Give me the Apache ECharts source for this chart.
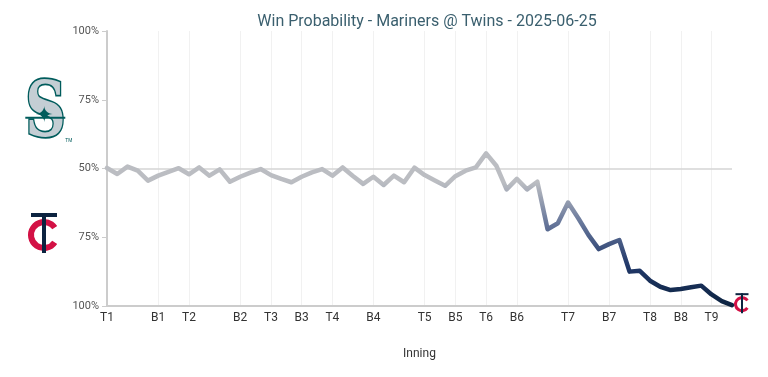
<!DOCTYPE html>
<html>
<head>
<meta charset="utf-8">
<script src="https://cdn.jsdelivr.net/npm/echarts@6/dist/echarts.min.js"></script>
<style>
  html, body { margin: 0; padding: 0; background: #fff; }
  #main { width: 768px; height: 377px; }
</style>
</head>
<body>
<div id="main"></div>
<script>
// half-inning labels and the play index where each one starts
const inningLabels = ['T1','B1','T2','B2','T3','B3','T4','B4','T5','B5','T6','B6','T7','B7','T8','B8','T9']
const inningStartIdx = [0,5,8,13,16,19,22,26,31,34,37,40,45,49,53,56,59]

// Mariners win probability (%) after each play
const winProb = [
  50.2, 48.0, 50.7, 49.2, 45.6, 47.4, 48.8, 50.1, 47.9, 50.4,
  47.4, 49.7, 45.2, 47.0, 48.5, 49.8, 47.6, 46.2, 45.0, 47.0,
  48.6, 49.8, 47.4, 50.4, 47.3, 44.4, 47.0, 44.0, 47.4, 45.0,
  50.3, 47.6, 45.6, 43.7, 47.2, 49.2, 50.4, 55.5, 51.0, 42.4,
  46.2, 42.4, 45.2, 27.9, 30.1, 37.6, 31.9, 25.8, 20.7, 22.5,
  24.0, 12.5, 12.8, 9.2, 7.0, 5.8, 6.2, 6.8, 7.4, 4.2,
  1.8, 0.3
]

const yTicks = [0, 25, 50, 75, 100]

const FONT = "'Roboto', sans-serif"

let categories = winProb.map((v, i) => {
    let k = inningStartIdx.indexOf(i)
    return k >= 0 ? inningLabels[k] : ''
})
let showLabel = (idx, val) => val !== ''

let myChart = echarts.init(document.getElementById('main'))

// Twins "TC" mark, built from simple shapes
function twinsLogo (x, y, s) {
    return {
        type: 'group',
        x: x,
        y: y,
        scaleX: s,
        scaleY: s,
        silent: true,
        children: [
            {
                type: 'arc',
                shape: { cx: 0, cy: 2, r: 13, startAngle: 0.6, endAngle: Math.PI * 2 - 0.6, clockwise: true },
                style: { stroke: '#d31145', lineWidth: 6, fill: null }
            },
            { type: 'rect', shape: { x: -13, y: -20, width: 26, height: 4 }, style: { fill: '#0c2340' } },
            { type: 'rect', shape: { x: -2, y: -20, width: 4, height: 40 }, style: { fill: '#0c2340' } }
        ]
    }
}

let option = {
    animation: false,
    title: {
        text: 'Win Probability - Mariners @ Twins - 2025-06-25',
        left: 422,
        textAlign: 'center',
        top: 9,
        textStyle: { fontFamily: FONT, fontSize: 16, fontWeight: 'normal', color: '#3a5f6e' }
    },
    grid: { left: 107, right: 36, top: 31, bottom: 71 },
    visualMap: {
        show: false,
        type: 'continuous',
        dimension: 1,
        seriesIndex: 0,
        min: 0,
        max: 45,
        inRange: { color: ['#0c2340', '#22396a', '#66769a', '#bbbdc2'] }
    },
    xAxis: {
        type: 'category',
        data: categories,
        boundaryGap: false,
        name: 'Inning',
        nameLocation: 'middle',
        nameGap: 42,
        nameTextStyle: { fontFamily: FONT, fontSize: 12, color: '#333' },
        axisLine: { lineStyle: { color: '#cccccc', width: 2 } },
        axisTick: { show: false },
        axisLabel: { interval: showLabel, fontFamily: FONT, fontSize: 12, color: '#333', margin: 6 },
        splitLine: { show: true, interval: showLabel, lineStyle: { color: '#f1f1f1', width: 1 } }
    },
    yAxis: {
        type: 'value',
        min: yTicks[0],
        max: yTicks[yTicks.length - 1],
        interval: 25,
        axisLine: { show: true, lineStyle: { color: '#cccccc', width: 2 } },
        axisTick: { show: true, length: 5, lineStyle: { color: '#cccccc' } },
        axisLabel: {
            fontFamily: FONT, fontSize: 11, color: '#555', margin: 8,
            formatter: v => (v >= 50 ? v : 100 - v) + '%'
        },
        splitLine: { show: false }
    },
    series: [{
        type: 'line',
        data: winProb,
        symbol: 'none',
        lineStyle: { width: 4.5, join: 'round', cap: 'round' },
        markLine: {
            silent: true,
            symbol: 'none',
            label: { show: false },
            lineStyle: { color: '#d4d4d4', width: 1.5, type: 'solid' },
            data: [{ yAxis: 50 }],
            z: 1
        },
        z: 3
    }],
    graphic: [
        // Mariners "S" mark
        {
            type: 'group',
            left: 24,
            top: 76,
            silent: true,
            children: [
                {
                    type: 'text',
                    x: 0, y: 0,
                    scaleX: 0.74,
                    style: {
                        text: 'S', fontFamily: 'DejaVu Serif', fontWeight: 'bold', fontSize: 76,
                        fill: '#c4ced4', stroke: '#005c5c', lineWidth: 3.5
                    }
                },
                { type: 'rect', shape: { x: 0, y: 39, width: 40, height: 2 }, style: { fill: '#005c5c' } },
                {
                    type: 'text', x: 10, y: 27,
                    style: { text: '\u2726', fontSize: 22, fill: '#005c5c' }
                },
                {
                    type: 'text', x: 40, y: 60,
                    style: { text: 'TM', fontSize: 5, fill: '#005c5c' }
                }
            ]
        },
        twinsLogo(44, 233, 1)
    ]
}

myChart.setOption(option)

// small Twins mark at the end of the line
let end = myChart.convertToPixel({ seriesIndex: 0 }, [winProb.length - 1, winProb[winProb.length - 1]])
myChart.setOption({ graphic: option.graphic.concat([twinsLogo(end[0] + 10, end[1] - 2, 0.5)]) })

window.addEventListener('resize', function () {
    myChart.resize()
})
</script>
</body>
</html>
